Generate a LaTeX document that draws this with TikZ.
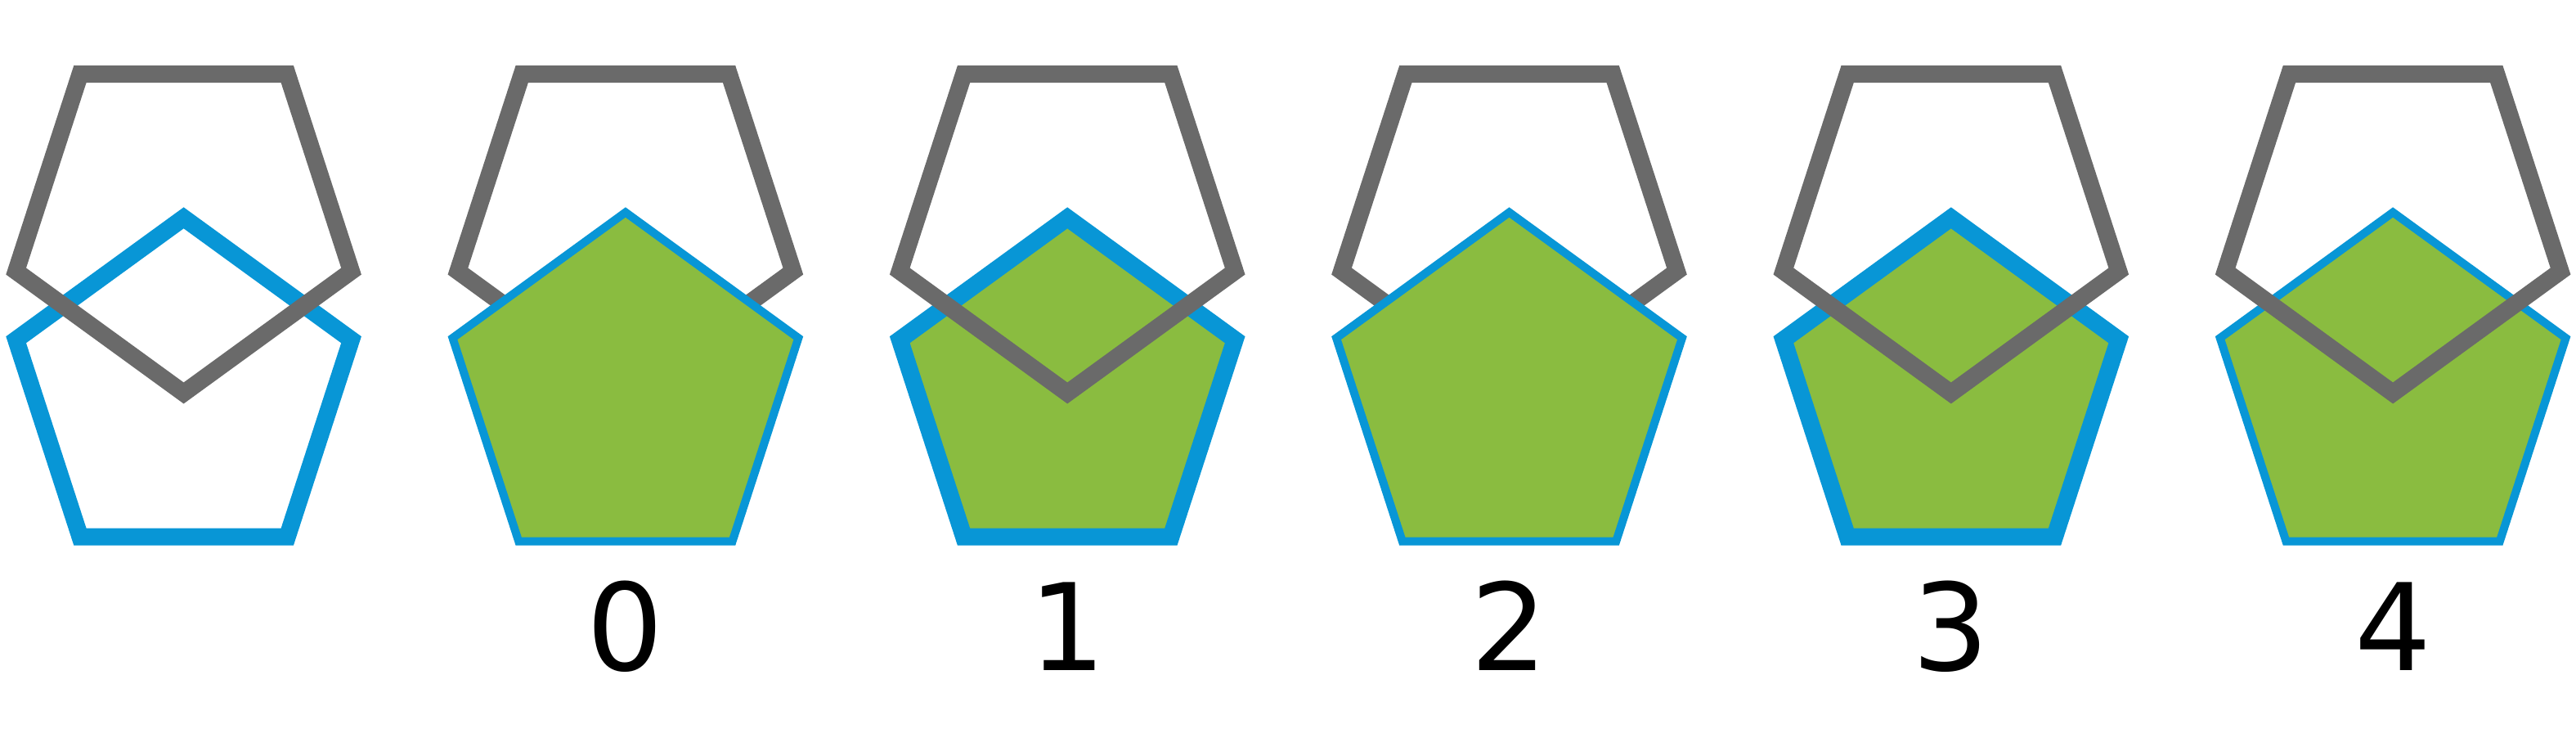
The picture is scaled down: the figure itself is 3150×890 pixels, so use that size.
\documentclass[tikz,border=0pt]{standalone}
\usepackage{fontspec}
\setmainfont{DejaVu Sans}
\definecolor{pgray}{RGB}{106,106,106}
\definecolor{pblue}{RGB}{8,150,214}
\definecolor{pgreen}{RGB}{138,188,64}
\newcommand\graypent[1]{\draw[graypen,shift={(#1,264.9)}] (90:215.5) -- (162:215.5) -- (234:215.5) -- (306:215.5) -- (18:215.5) -- cycle;}
\newcommand\bluepent[3]{\draw[#2,shift={(#1,481.8)}] (270:#3) -- (342:#3) -- (54:#3) -- (126:#3) -- (198:#3) -- cycle;}
\begin{document}
\begin{tikzpicture}[x=0.1mm,y=-0.1mm,
  graypen/.style={draw=pgray,line width=2.1mm,line join=miter},
  bluethick/.style={draw=pblue,line width=2.1mm,line join=miter},
  bluethickfill/.style={bluethick,fill=pgreen},
  bluethinfill/.style={draw=pblue,line width=1mm,line join=miter,fill=pgreen},
  lab/.style={anchor=base,inner sep=0pt,font=\fontsize{42pt}{50pt}\selectfont}]
\fill[white] (0,0) rectangle (3150,890);
\useasboundingbox (0,0) rectangle (3150,890);
% panel without label
\bluepent{224.6}{bluethick}{215.5}
\graypent{224.6}
% panel 0
\graypent{764.9}
\bluepent{764.9}{bluethinfill}{222.3}
% panel 1
\bluepent{1305.2}{bluethickfill}{215.5}
\graypent{1305.2}
% panel 2
\graypent{1845.5}
\bluepent{1845.5}{bluethinfill}{222.3}
% panel 3
\bluepent{2385.8}{bluethickfill}{215.5}
\graypent{2385.8}
% panel 4
\bluepent{2926.1}{bluethinfill}{222.3}
\graypent{2926.1}
% labels
\node[lab] (l0) at (764.9,819) {0};
\node[lab] (l1) at (1305.2,819) {1};
\node[lab] (l2) at (1845.5,819) {2};
\node[lab] (l3) at (2385.8,819) {3};
\node[lab] (l4) at (2926.1,819) {4};
\end{tikzpicture}
\end{document}
